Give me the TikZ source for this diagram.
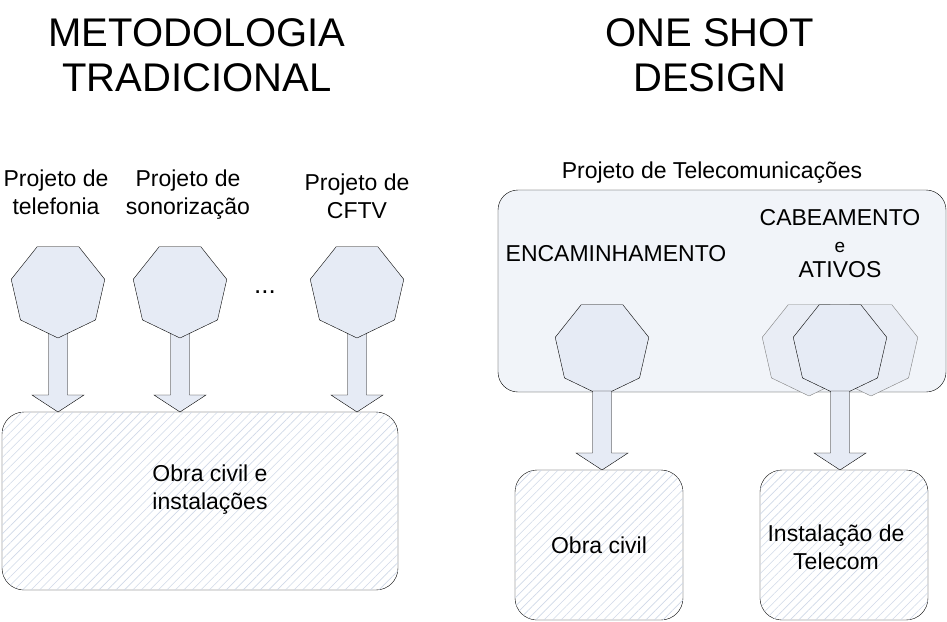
\documentclass[tikz,border=0pt]{standalone}
\usepackage{fontspec}
\setmainfont{Liberation Sans}
\usetikzlibrary{patterns.meta}
\definecolor{hfill}{HTML}{E6EBF5}
\definecolor{gfill}{HTML}{E9EDF5}
\definecolor{bfill}{HTML}{F1F4F9}
\definecolor{hatch}{HTML}{D0D9E8}
\tikzset{
 hepta/.pic={\draw[fill=hfill,line join=round,#1] (90:48) \foreach \k in {1,...,6}{ -- ({90+\k*360/7}:48)} -- cycle;},
 hepta/.default={},
 bigarrow/.style={draw,fill=hfill,line join=miter},
 hbox/.style={draw,rounded corners=22pt,fill=white,postaction={pattern={Lines[angle=45,distance=6pt,line width=0.6pt]},pattern color=hatch}},
 lbl/.style={font=\fontsize{23}{28}\selectfont,align=center},
 ttl/.style={font=\fontsize{40}{45}\selectfont,align=center},
}
\newcommand{\barrow}[3]{% x, ytop, ybot
 \draw[bigarrow] (#1-9.5,#2) -- (#1+9.5,#2) -- (#1+9.5,#3-17) -- (#1+26,#3-17) -- (#1,#3) -- (#1-26,#3-17) -- (#1-9.5,#3-17) -- cycle;}
\begin{document}
\begin{tikzpicture}[x=1pt,y=-1pt]
\useasboundingbox (0,0) rectangle (947,621);
\node[ttl] (t1) at (197,55) {METODOLOGIA\\TRADICIONAL};
\node[ttl] (t2) at (710,55) {ONE SHOT\\DESIGN};
\node[lbl,anchor=north] (l1) at (56,166) {Projeto de\\telefonia};
\node[lbl,anchor=north] (l2) at (188,166) {Projeto de\\sonorização};
\node[lbl,anchor=north] (l3) at (357,170) {Projeto de\\CFTV};
\node[hbox,minimum width=396pt,minimum height=178pt] (b1) at (200,501) {};
\node[lbl,anchor=north] (bt1) at (210,461) {Obra civil e\\instalações};
\barrow{58}{333}{412}
\barrow{180}{333}{412}
\barrow{357}{333}{412}
\pic at (58,290) {hepta};
\pic at (180,290) {hepta};
\pic at (357,290) {hepta};
\node[font=\fontsize{26}{28}\selectfont] (dots) at (265,292) {...};
\node[lbl] (l4) at (712,173) {Projeto de Telecomunicações};
\node[draw,rounded corners=20pt,fill=bfill,minimum width=448pt,minimum height=202pt] (pb) at (722,291) {};
\node[lbl] (enc) at (616,254) {ENCAMINHAMENTO};
\node[lbl,anchor=north,align=center] (cab) at (840,206) {CABEAMENTO\\[-1pt]{\fontsize{19}{20}\selectfont e}\\[-3pt]ATIVOS};
\pic at (809,348) {hepta={draw=gray,fill=gfill}};
\pic at (871,348) {hepta={draw=gray,fill=gfill}};
\pic at (840,348) {hepta};
\pic at (602,348) {hepta};
\barrow{602}{391}{470}
\barrow{840}{391}{470}
\node[hbox,minimum width=168pt,minimum height=150pt] (b2) at (599,545) {};
\node[lbl] (bt2) at (599,545) {Obra civil};
\node[hbox,minimum width=168pt,minimum height=150pt] (b3) at (844,545) {};
\node[lbl] (bt3) at (836,547) {Instalação de\\Telecom};
\end{tikzpicture}
\end{document}
